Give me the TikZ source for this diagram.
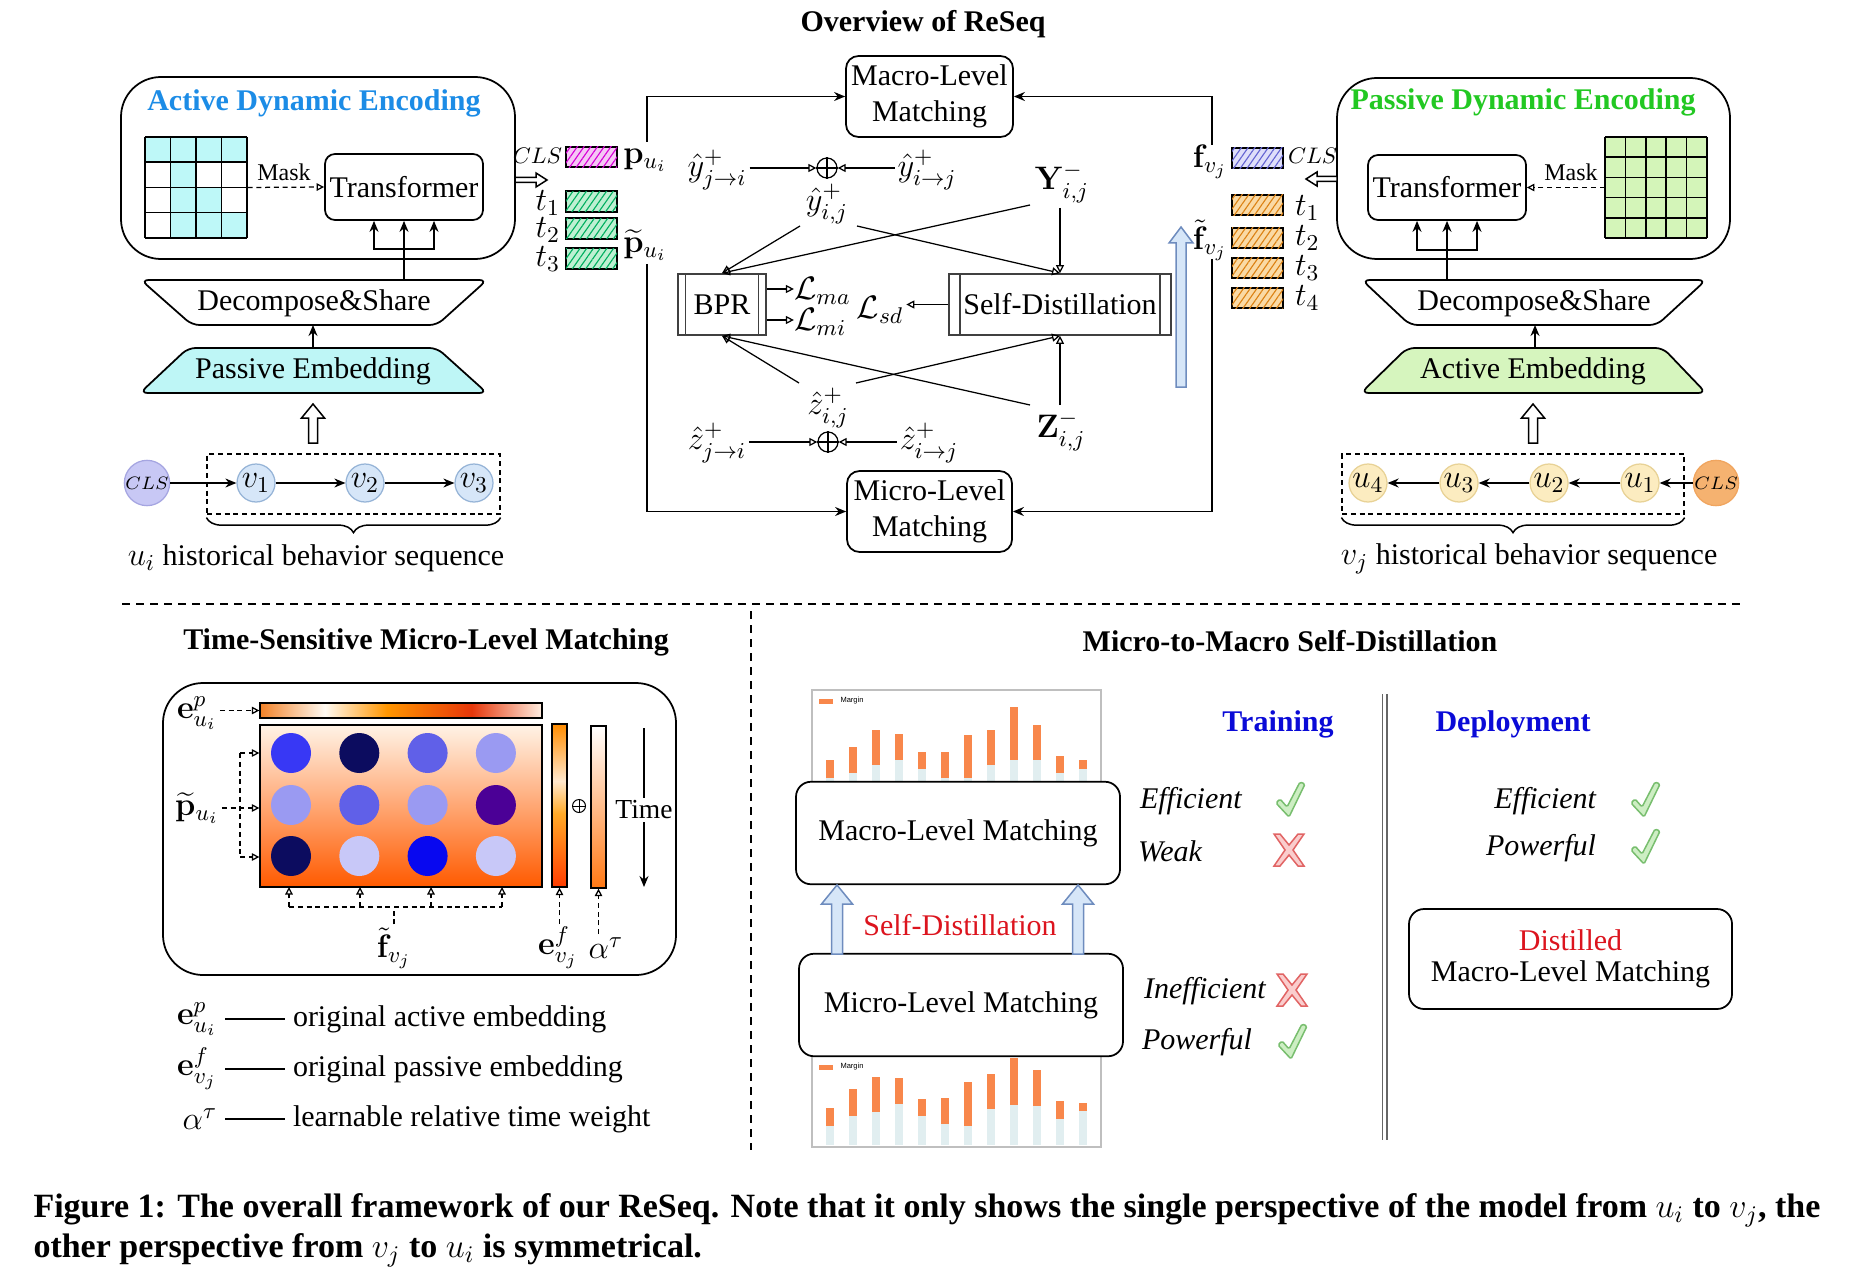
\RequirePackage{fix-cm}
\documentclass[tikz,border=0pt]{standalone}
\usepackage{amsmath}
\usepackage[no-math]{fontspec}
\setmainfont{Liberation Serif}
\setsansfont{Liberation Sans}
\usetikzlibrary{arrows.meta,patterns.meta,decorations.pathreplacing,calc}

\definecolor{actblue}{RGB}{28,140,230}
\definecolor{pasgreen}{RGB}{34,200,34}
\definecolor{cyanc}{RGB}{190,248,248}
\definecolor{grnc}{RGB}{212,245,185}
\definecolor{pefill}{RGB}{190,246,246}
\definecolor{aefill}{RGB}{214,245,190}
\definecolor{magh}{RGB}{215,0,215}
\definecolor{magf}{RGB}{245,200,245}
\definecolor{grh}{RGB}{0,175,95}
\definecolor{grf}{RGB}{190,240,210}
\definecolor{puh}{RGB}{100,100,210}
\definecolor{puf}{RGB}{222,222,250}
\definecolor{orh}{RGB}{220,130,20}
\definecolor{orf}{RGB}{250,218,165}
\definecolor{clsLf}{RGB}{200,200,245}
\definecolor{clsLd}{RGB}{165,165,225}
\definecolor{vfill}{RGB}{214,230,248}
\definecolor{vdraw}{RGB}{150,180,215}
\definecolor{ufill}{RGB}{252,236,192}
\definecolor{udraw}{RGB}{232,210,150}
\definecolor{clsRf}{RGB}{245,178,112}
\definecolor{clsRd}{RGB}{240,165,95}
\definecolor{barblue}{RGB}{214,230,248}
\definecolor{barblued}{RGB}{110,140,190}
\definecolor{trblue}{RGB}{10,10,215}
\definecolor{sdred}{RGB}{220,20,30}
\definecolor{chkf}{RGB}{205,238,195}
\definecolor{chkd}{RGB}{120,190,110}
\definecolor{crsf}{RGB}{250,205,205}
\definecolor{crsd}{RGB}{225,100,100}
\definecolor{charto}{RGB}{248,135,75}
\definecolor{chartg}{RGB}{225,238,240}
\definecolor{matTop}{RGB}{255,243,230}
\definecolor{matMid}{RGB}{255,170,95}
\definecolor{matBot}{RGB}{255,90,0}
\definecolor{ep0}{RGB}{242,130,40}
\definecolor{epW}{RGB}{255,250,242}
\definecolor{ep2}{RGB}{255,150,0}
\definecolor{ep3}{RGB}{230,55,10}
\definecolor{ep4}{RGB}{255,238,225}
\definecolor{ef0}{RGB}{255,140,0}
\definecolor{ef1}{RGB}{255,232,205}
\definecolor{ef2}{RGB}{255,170,40}
\definecolor{ef3}{RGB}{255,60,0}
\definecolor{alBot}{RGB}{255,120,20}
\definecolor{cA}{RGB}{56,56,245}
\definecolor{cN}{RGB}{12,12,95}
\definecolor{cM}{RGB}{96,96,232}
\definecolor{cL}{RGB}{154,154,242}
\definecolor{cP}{RGB}{75,0,150}
\definecolor{cVL}{RGB}{200,200,248}
\definecolor{cB}{RGB}{8,8,240}

\pgfdeclarehorizontalshading{shEp}{100bp}{color(0bp)=(ep0); color(25bp)=(ep0); color(36.5bp)=(epW); color(47.5bp)=(ep2); color(62.5bp)=(ep3); color(75bp)=(ep4); color(100bp)=(ep4)}
\pgfdeclareverticalshading{shEf}{100bp}{color(0bp)=(ef3); color(25bp)=(ef3); color(47.5bp)=(ef2); color(57.5bp)=(ef1); color(75bp)=(ef0); color(100bp)=(ef0)}

\newcommand{\myVArrow}[7]{\draw[#1] (#2-#6,#5) -- (#2-#6,#4) -- (#2-#7,#4) -- (#2,#3) -- (#2+#7,#4) -- (#2+#6,#4) -- (#2+#6,#5) -- cycle;}
\newcommand{\mycheck}[2]{\draw[chk, shift={(#1,#2)}, rounded corners=0.6pt] (-14,4) -- (-10,0) -- (-3,8) -- (10,-17) -- (15,-15) -- (-1,18) -- cycle;}
\newcommand{\mycross}[2]{\draw[crs, shift={(#1,#2)}] (-15,-16) -- (-9,-16) -- (0,-5) -- (9,-16) -- (15,-16) -- (4,0) -- (15,16) -- (9,16) -- (0,5) -- (-9,16) -- (-15,16) -- (-4,0) -- cycle;}

\begin{document}
\begin{tikzpicture}[x=0.4pt,y=-0.4pt,
 every node/.style={font=\fontsize{12}{14.4}\selectfont, inner sep=1pt},
 mth/.style={font=\fontsize{13}{15.6}\selectfont},
 ttl/.style={font=\fontsize{12}{14.4}\selectfont\bfseries},
 itl/.style={font=\fontsize{12}{14.4}\selectfont\itshape},
 rbox/.style={draw, line width=0.7pt, rounded corners=5pt, align=center, fill=white, inner sep=0pt},
 sqbox/.style={draw=black!75, line width=0.7pt, inner sep=0pt, fill=white},
 arr/.style={line width=0.6pt, -{Stealth[length=4.4pt,width=3.6pt]}},
 oarr/.style={line width=0.5pt, -{Triangle[open,length=3.2pt,width=3.2pt]}},
 darr/.style={line width=0.5pt, dash pattern=on 2pt off 1.5pt, -{Triangle[open,length=3pt,width=3pt]}},
 dline/.style={line width=0.5pt, dash pattern=on 2pt off 1.5pt},
 seq/.style={circle, minimum size=15.2pt, inner sep=0pt, line width=0.5pt, font=\fontsize{13}{15.6}\selectfont},
 hatch/.style 2 args={draw=black, line width=0.7pt, fill=#2, postaction={pattern={Lines[angle=55,distance=2.2pt,line width=0.45pt]}, pattern color=#1}, minimum width=20.4pt, minimum height=8.2pt, inner sep=0pt},
 opl/.style={circle, draw, line width=0.5pt, minimum size=8pt, inner sep=0pt},
 blockw/.style={draw, line width=0.6pt, fill=white},
 blockb/.style={draw=barblued, line width=0.6pt, fill=barblue},
 chk/.style={draw=chkd, fill=chkf, line width=0.6pt, line join=round},
 crs/.style={draw=crsd, fill=crsf, line width=0.6pt},
 bracedn/.style={decorate, decoration={brace, mirror, amplitude=6pt}, line width=0.6pt},
 trap/.style={draw, line width=0.7pt, rounded corners=3pt},
 sepl/.style={line width=0.8pt, dash pattern=on 3.2pt off 2.4pt},
 grd/.style={line width=0.6pt},
]
\useasboundingbox (0,0) rectangle (1850,1278);

% ================= title
\node[ttl] (mainT) at (923,24) {Overview of ReSeq};

% ================= top left: active dynamic encoding
\node[draw, line width=0.7pt, rounded corners=16pt, minimum width=157.6pt, minimum height=72.8pt, inner sep=0pt] (actbox) at (318,168) {};
\node[ttl, text=actblue] (actT) at (314,103) {Active Dynamic Encoding};
\foreach \c/\r in {1/1,2/1,3/1,4/1,2/2,2/3,3/3,2/4,3/4,4/4}
  \fill[cyanc] ({145+25.5*(\c-1)},{137+25.25*(\r-1)}) rectangle ++(25.5,25.25);
\foreach \i in {0,...,4} {
  \draw[grd] ({145+25.5*\i},137) -- ({145+25.5*\i},238);
  \draw[grd] (145,{137+25.25*\i}) -- (247,{137+25.25*\i});
}
\node[minimum width=40.8pt, minimum height=40.4pt, inner sep=0pt] (gridL) at (196,187.5) {};
\node[font=\fontsize{9.6}{11}\selectfont] (maskL) at (284,172) {Mask};
\node[rbox, rounded corners=4pt, minimum width=63.2pt, minimum height=26.4pt] (tfL) at (404,187) {Transformer};
\draw[darr] (gridL.east) -- (tfL.west);
\coordinate (dsLt) at (404,280);
\coordinate (fkL) at (404,249);
\draw[arr] (dsLt) -- (tfL.south);
\draw[arr] (fkL) -| ([xshift=-12pt]tfL.south);
\draw[arr] (fkL) -| ([xshift=12pt]tfL.south);
\draw[blockw] (515,177.5) -- (536,177.5) -- (536,173) -- (547,180) -- (536,187) -- (536,182.5) -- (515,182.5) -- cycle;

\draw[trap] (141,280) -- (487,280) -- (437,325) -- (192,325) -- cycle;
\node (dsL) at (314,303) {Decompose\&Share};
\draw[trap, fill=pefill] (188,348) -- (437,348) -- (487,393) -- (140,393) -- cycle;
\node (peL) at (313,371) {Passive Embedding};
\coordinate (peLt) at (313,348);
\coordinate (dsLb) at (313,325);
\draw[arr] (peLt) -- (dsLb);
\myVArrow{blockw}{313}{404}{418}{443}{4.5}{11.5}

\node[draw, dline, minimum width=117.2pt, minimum height=24pt, inner sep=0pt] (seqLbox) at (353.5,484) {};
\node[seq, fill=clsLf, draw=clsLd, font=\fontsize{7.2}{8}\selectfont] (clsLn) at (147,483) {$CLS$};
\node[seq, fill=vfill, draw=vdraw] (v1) at (256,483) {$v_1$};
\node[seq, fill=vfill, draw=vdraw] (v2) at (365,483) {$v_2$};
\node[seq, fill=vfill, draw=vdraw] (v3) at (474,483) {$v_3$};
\draw[arr] (clsLn) -- (v1);
\draw[arr] (v1) -- (v2);
\draw[arr] (v2) -- (v3);
\draw[bracedn] ([yshift=-1.2pt]seqLbox.south west) -- ([yshift=-1.2pt]seqLbox.south east);
\node (seqLlab) at (316,558) {\fontsize{13}{15}\selectfont$u_i$\fontsize{12}{14.4}\selectfont{} historical behavior sequence};

% left embeddings
\node[anchor=east, font=\fontsize{9}{10}\selectfont] (clsLb) at (565,156) {$CLS$};
\node[hatch={magh}{magf}] (pbar) at (591.5,157) {};
\node[hatch={grh}{grf}] (t1bar) at (591.5,201.5) {};
\node[hatch={grh}{grf}] (t2bar) at (591.5,228.5) {};
\node[hatch={grh}{grf}] (t3bar) at (591.5,258.5) {};
\node[mth, anchor=east] (t1L) at (563,203) {$t_1$};
\node[mth, anchor=east] (t2L) at (563,230) {$t_2$};
\node[mth, anchor=east] (t3L) at (563,259) {$t_3$};
\node[mth] (puL) at (645,160) {$\mathbf{p}_{u_i}$};
\node[mth] (ptL) at (645,245) {$\widetilde{\mathbf{p}}_{u_i}$};

% ================= middle
\node[rbox, minimum width=66.8pt, minimum height=32.4pt] (macro) at (929.5,96.5) {Macro-Level\\Matching};
\node[rbox, minimum width=66pt, minimum height=32.4pt] (micro) at (929.5,511.5) {Micro-Level\\Matching};
\coordinate (puTop) at (647,142);
\coordinate (ptBot) at (647,264);
\draw[arr] (puTop) |- (macro.west);
\draw[arr] (ptBot) |- (micro.west);

\node[mth] (yji) at (717,170) {$\hat{y}^{+}_{j\rightarrow i}$};
\node[opl] (opY) at (827,168) {};
\draw[line width=0.5pt] (opY.north) -- (opY.south) (opY.west) -- (opY.east);
\node[mth] (yij2) at (927,170) {$\hat{y}^{+}_{i\rightarrow j}$};
\node[mth] (yij) at (827,204) {$\hat{y}^{+}_{i,j}$};
\draw[oarr] (opY.west -| yji.east) -- (opY.west);
\draw[oarr] (opY.east -| yij2.west) -- (opY.east);
\node[mth] (Ym) at (1062,183) {$\mathbf{Y}^{-}_{i,j}$};

\node[sqbox, minimum width=35.2pt, minimum height=24.4pt] (bpr) at (722,304.5) {BPR};
\draw[black!75, line width=0.6pt] ([xshift=3.4pt]bpr.north west) -- ([xshift=3.4pt]bpr.south west);
\draw[black!75, line width=0.6pt] ([xshift=-3.4pt]bpr.north east) -- ([xshift=-3.4pt]bpr.south east);
\node[sqbox, minimum width=88.8pt, minimum height=24.4pt] (sd) at (1060,304.5) {Self-Distillation};
\draw[black!75, line width=0.6pt] ([xshift=4.8pt]sd.north west) -- ([xshift=4.8pt]sd.south west);
\draw[black!75, line width=0.6pt] ([xshift=-4.8pt]sd.north east) -- ([xshift=-4.8pt]sd.south east);

\coordinate (yijA) at (800,226);
\coordinate (yijB) at (857,226);
\coordinate (YmA) at (1030,205);
\coordinate (YmB) at (1060,208);
\draw[oarr] (yijA) -- (bpr.north);
\draw[oarr] (YmA) -- (bpr.north);
\draw[oarr] (yijB) -- (sd.north);
\draw[oarr] (YmB) -- (sd.north);

\node[mth, anchor=west] (Lma) at (791,291) {$\mathcal{L}_{ma}$};
\node[mth, anchor=west] (Lmi) at (791,322) {$\mathcal{L}_{mi}$};
\draw[oarr] ([yshift=6.2pt]bpr.east) -- ++(27,0);
\draw[oarr] ([yshift=-6.2pt]bpr.east) -- ++(27,0);
\node[mth] (Lsd) at (880,310) {$\mathcal{L}_{sd}$};
\draw[oarr] (sd.west) -- (sd.west -| Lsd.east);

\node[mth] (zij) at (828,408) {$\hat{z}^{+}_{i,j}$};
\node[mth] (zji) at (717,443) {$\hat{z}^{+}_{j\rightarrow i}$};
\node[opl] (opZ) at (828,442) {};
\draw[line width=0.5pt] (opZ.north) -- (opZ.south) (opZ.west) -- (opZ.east);
\node[mth] (zij2) at (929,443) {$\hat{z}^{+}_{i\rightarrow j}$};
\draw[oarr] (opZ.west -| zji.east) -- (opZ.west);
\draw[oarr] (opZ.east -| zij2.west) -- (opZ.east);
\node[mth] (Zm) at (1061,431) {$\mathbf{Z}^{-}_{i,j}$};
\coordinate (zijA) at (799,383);
\coordinate (zijB) at (856,383);
\coordinate (ZmA) at (1030,405);
\coordinate (ZmB) at (1060,405);
\draw[oarr] (zijA) -- (bpr.south);
\draw[oarr] (ZmA) -- (bpr.south);
\draw[oarr] (zijB) -- (sd.south);
\draw[oarr] (ZmB) -- (sd.south);

\myVArrow{blockb}{1181}{227}{243}{387}{5}{12}

\node[mth] (fv) at (1210,162) {$\mathbf{f}_{v_j}$};
\node[mth] (ftv) at (1210,240) {$\tilde{\mathbf{f}}_{v_j}$};
\coordinate (fvTop) at (1212,145);
\coordinate (ftBot) at (1212,259);
\draw[arr] (fvTop) |- (macro.east);
\draw[arr] (ftBot) |- (micro.east);

% right embeddings
\node[hatch={puh}{puf}] (fbar) at (1257.5,158) {};
\node[hatch={orh}{orf}] (r1bar) at (1257.5,205) {};
\node[hatch={orh}{orf}] (r2bar) at (1257.5,238) {};
\node[hatch={orh}{orf}] (r3bar) at (1257.5,268) {};
\node[hatch={orh}{orf}] (r4bar) at (1257.5,298) {};
\node[anchor=west, font=\fontsize{9}{10}\selectfont] (clsRb) at (1285,156) {$CLS$};
\node[mth, anchor=west] (r1L) at (1292,208) {$t_1$};
\node[mth, anchor=west] (r2L) at (1292,238) {$t_2$};
\node[mth, anchor=west] (r3L) at (1292,268) {$t_3$};
\node[mth, anchor=west] (r4L) at (1292,298) {$t_4$};

% ================= top right: passive dynamic encoding
\node[draw, line width=0.7pt, rounded corners=16pt, minimum width=157.2pt, minimum height=72.4pt, inner sep=0pt] (pasbox) at (1533.5,168.5) {};
\node[ttl, text=pasgreen] (pasT) at (1523,102) {Passive Dynamic Encoding};
\fill[grnc] (1605,137) rectangle (1707,238);
\foreach \i in {0,...,5} {
  \draw[grd] ({1605+20.4*\i},137) -- ({1605+20.4*\i},238);
  \draw[grd] (1605,{137+20.2*\i}) -- (1707,{137+20.2*\i});
}
\node[minimum width=40.8pt, minimum height=40.4pt, inner sep=0pt] (gridR) at (1656,187.5) {};
\node[font=\fontsize{9.6}{11}\selectfont] (maskR) at (1571,172) {Mask};
\node[rbox, rounded corners=4pt, minimum width=63.2pt, minimum height=26pt] (tfR) at (1447,187.5) {Transformer};
\draw[darr] (gridR.west) -- (tfR.east);
\coordinate (dsRt) at (1447,280);
\coordinate (fkR) at (1447,250);
\draw[arr] (dsRt) -- (tfR.south);
\draw[arr] (fkR) -| ([xshift=-12pt]tfR.south);
\draw[arr] (fkR) -| ([xshift=12pt]tfR.south);
\draw[blockw] (1337,176.5) -- (1317,176.5) -- (1317,172) -- (1306,179) -- (1317,186) -- (1317,181.5) -- (1337,181.5) -- cycle;

\draw[trap] (1362,280) -- (1706,280) -- (1657,325) -- (1410,325) -- cycle;
\node (dsR) at (1534,303) {Decompose\&Share};
\draw[trap, fill=aefill] (1407,348) -- (1663,348) -- (1706,393) -- (1361,393) -- cycle;
\node (aeR) at (1533,371) {Active Embedding};
\coordinate (aeRt) at (1535,348);
\coordinate (dsRb) at (1535,325);
\draw[arr] (aeRt) -- (dsRb);
\myVArrow{blockw}{1533}{404}{418}{443}{4.5}{11.5}

\node[draw, dline, minimum width=136.8pt, minimum height=24pt, inner sep=0pt] (seqRbox) at (1513,484) {};
\node[seq, fill=clsRf, draw=clsRd, font=\fontsize{7.2}{8}\selectfont] (clsRn) at (1716,483) {$CLS$};
\node[seq, fill=ufill, draw=udraw] (u1) at (1640,483) {$u_1$};
\node[seq, fill=ufill, draw=udraw] (u2) at (1549,483) {$u_2$};
\node[seq, fill=ufill, draw=udraw] (u3) at (1459,483) {$u_3$};
\node[seq, fill=ufill, draw=udraw] (u4) at (1368,483) {$u_4$};
\draw[arr] (clsRn) -- (u1);
\draw[arr] (u1) -- (u2);
\draw[arr] (u2) -- (u3);
\draw[arr] (u3) -- (u4);
\draw[bracedn] ([yshift=-1.2pt]seqRbox.south west) -- ([yshift=-1.2pt]seqRbox.south east);
\node (seqRlab) at (1529,559) {\fontsize{13}{15}\selectfont$v_j$\fontsize{12}{14.4}\selectfont{} historical behavior sequence};

% ================= separators
\draw[sepl] (122,604) -- (1743,604);
\draw[sepl] (751,611) -- (751,1150);

% ================= bottom left
\node[ttl] (tsT) at (426,642) {Time-Sensitive Micro-Level Matching};
\node[draw, line width=0.7pt, rounded corners=16pt, minimum width=205.2pt, minimum height=116.8pt, inner sep=0pt] (tsbox) at (419.5,829) {};
\node[draw, line width=0.5pt, shade, shading=shEp, minimum width=112.8pt, minimum height=6pt, inner sep=0pt] (epbar) at (401,710.5) {};
\node[draw, line width=0.5pt, top color=matTop, middle color=matMid, bottom color=matBot, minimum width=112.8pt, minimum height=64.8pt, inner sep=0pt] (mat) at (401,806) {};
\node[draw, line width=0.5pt, shade, shading=shEf, minimum width=6pt, minimum height=65.2pt, inner sep=0pt] (efbar) at (559.5,805.5) {};
\node[draw, line width=0.5pt, top color=white, bottom color=alBot, minimum width=6pt, minimum height=64.8pt, inner sep=0pt] (albar) at (598.5,807) {};
\foreach \col [count=\k] in {cA,cN,cM,cL}
  \node[circle, fill=\col, minimum size=16pt, inner sep=0pt] (c1\k) at ({291+68.3*(\k-1)},753) {};
\foreach \col [count=\k] in {cL,cM,cL,cP}
  \node[circle, fill=\col, minimum size=16pt, inner sep=0pt] (c2\k) at ({291+68.3*(\k-1)},805) {};
\foreach \col [count=\k] in {cN,cVL,cB,cVL}
  \node[circle, fill=\col, minimum size=16pt, inner sep=0pt] (c3\k) at ({291+68.3*(\k-1)},856) {};

\node[mth] (epL) at (197,713) {$\mathbf{e}^{p}_{u_i}$};
\draw[darr] (epL.east |- epbar.west) -- (epbar.west);
\node[mth] (ptM) at (197,808) {$\widetilde{\mathbf{p}}_{u_i}$};
\coordinate (pr1) at (240,753);
\coordinate (pr3) at (240,857);
\draw[dline] (pr1) -- (pr3);
\draw[darr] (pr1) -- (pr1 -| mat.west);
\draw[darr] (pr3) -- (pr3 -| mat.west);
\draw[darr] (ptM.east) -- (ptM.east -| mat.west);

\node[mth] (ftM) at (394,948) {$\tilde{\mathbf{f}}_{v_j}$};
\coordinate (fbM) at (394,907);
\coordinate (fbL) at (289,907);
\coordinate (fbR) at (502,907);
\draw[dline] (ftM.north) -- (fbM);
\draw[dline] (fbL) -- (fbR);
\foreach \xx in {289,360,431,502}
  \draw[darr] (\xx,907) -- (\xx,887);

\node[mth] (efL) at (558,948) {$\mathbf{e}^{f}_{v_j}$};
\node[mth] (alL) at (606,948) {$\alpha^{\tau}$};
\draw[darr] (efbar.south |- efL.north) -- (efbar.south);
\draw[darr] (albar.south |- alL.north) -- (albar.south);
\node[circle, draw, line width=0.4pt, minimum size=5.2pt, inner sep=0pt] (opM) at (579,806) {};
\draw[line width=0.4pt] (opM.north) -- (opM.south) (opM.west) -- (opM.east);
\coordinate (tmTop) at (644,728);
\coordinate (tmBot) at (644,887);
\draw[arr] (tmTop) -- (tmBot);
\node[fill=white, inner sep=1pt, font=\fontsize{11}{13}\selectfont] (timeL) at (644,810) {Time};

\node[mth] (lg1) at (197,1019) {$\mathbf{e}^{p}_{u_i}$};
\node[anchor=west] (lg1t) at (290,1019) {original active embedding};
\node[mth] (lg2) at (197,1069) {$\mathbf{e}^{f}_{v_j}$};
\node[anchor=west] (lg2t) at (290,1069) {original passive embedding};
\node[mth] (lg3) at (200,1119) {$\alpha^{\tau}$};
\node[anchor=west] (lg3t) at (290,1119) {learnable relative time weight};
\draw[line width=0.6pt] (225,1019) -- ([xshift=-2pt]lg1t.west);
\draw[line width=0.6pt] (225,1069) -- ([xshift=-2pt]lg2t.west);
\draw[line width=0.6pt] (225,1119) -- ([xshift=-2pt]lg3t.west);

% ================= bottom right
\node[ttl] (mmT) at (1290,641) {Micro-to-Macro Self-Distillation};
\draw[black!25, line width=0.5pt] (812,690) rectangle (1101,795);
\foreach \x/\t/\b in {830/760.4/777.9, 853/747/773.3, 876/729.8/764.6, 899/734/760.4, 922/751.6/769.1, 945/751.6/777.9, 968/734.7/777.9, 991/729.8/764.6, 1014/707/760.4, 1037/724.6/760.4, 1060/756.1/773.3, 1083/760.4/769.1}
{ \fill[chartg] (\x-4.25,\b) rectangle (\x+4.25,785); \fill[charto] (\x-4.25,\t) rectangle (\x+4.25,\b); }
\fill[charto] (819,699) rectangle (833,703.5);
\node[anchor=west, inner sep=0pt, font=\sffamily\fontsize{3}{3.5}\selectfont] (mg1) at (840,701) {Margin};
\draw[black!25, line width=0.5pt] (812,1045) rectangle (1101,1147);
\foreach \x/\t/\b in {830/1108/1125.5, 853/1089.4/1115.7, 876/1076.8/1112.2, 899/1078.2/1103.8, 922/1099.2/1116, 945/1098.2/1123.8, 968/1082.4/1126.2, 991/1074/1108.7, 1014/1057.8/1104.5, 1037/1070.4/1106.2, 1060/1101/1118.5, 1083/1102.7/1110.8}
{ \fill[chartg] (\x-4.25,\b) rectangle (\x+4.25,1145); \fill[charto] (\x-4.25,\t) rectangle (\x+4.25,\b); }
\node[rbox, rounded corners=6pt, minimum width=129.6pt, minimum height=41pt] (macro2) at (958,833) {Macro-Level Matching};
\node[rbox, rounded corners=6pt, minimum width=129.6pt, minimum height=41pt] (micro2) at (961,1005) {Micro-Level Matching};
\fill[charto] (819,1065) rectangle (833,1069.5);
\node[anchor=west, inner sep=0pt, font=\sffamily\fontsize{3}{3.5}\selectfont] (mg2) at (840,1067) {Margin};
\myVArrow{blockb}{837}{885}{904}{954}{5.5}{15.5}
\myVArrow{blockb}{1078}{885}{904}{954}{5.5}{15.5}
\node[text=sdred] (sdL) at (960,925) {Self-Distillation};

\node[ttl, text=trblue] (trT) at (1278,724) {Training};
\node[itl, anchor=west] (eff1) at (1137,801) {Efficient};
\node[itl, anchor=west] (weak1) at (1135,851) {Weak};
\node[itl, anchor=west] (ineff1) at (1141,991) {Inefficient};
\node[itl, anchor=west] (pow1) at (1139,1042) {Powerful};
\mycheck{1290}{799}
\mycross{1289}{850}
\mycross{1292}{990}
\mycheck{1292}{1041}

\draw[black!60, line width=0.5pt, double=white, double distance=1.4pt] (1384.5,694) -- (1384.5,1140);

\node[ttl, text=trblue] (depT) at (1513,724) {Deployment};
\node[itl, anchor=east] (eff2) at (1599,801) {Efficient};
\node[itl, anchor=east] (pow2) at (1599,848) {Powerful};
\mycheck{1645}{799}
\mycheck{1645}{846}
\node[rbox, rounded corners=6pt, minimum width=129.2pt, minimum height=40pt, font=\fontsize{12}{12.5}\selectfont] (dist) at (1570.5,959) {\textcolor{sdred}{Distilled}\\Macro-Level Matching};

% ================= caption
\node[anchor=base west, inner sep=0pt, font=\fontsize{13.6}{16}\selectfont\bfseries] (cap1) at (33,1217) {Figure 1: The overall framework of our ReSeq. Note that it only shows the single perspective of the model from $u_i$ to $v_j$, the};
\node[anchor=base west, inner sep=0pt, font=\fontsize{13.6}{16}\selectfont\bfseries] (cap2) at (33,1257) {other perspective from $v_j$ to $u_i$ is symmetrical.};
\end{tikzpicture}
\end{document}
